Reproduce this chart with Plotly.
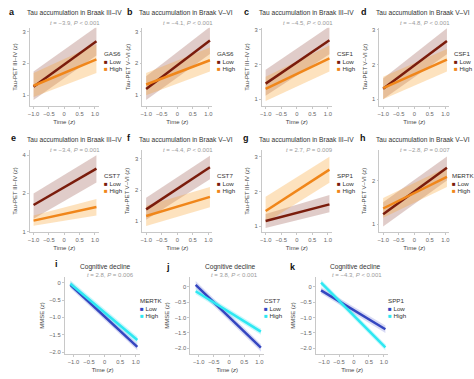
import plotly.graph_objects as go

W, H = 474, 379

# ---------------- data ----------------
panel_letters = ["a", "b", "c", "d", "e", "f", "g", "h", "i", "j", "k"]
panel_titles = ["Tau accumulation in Braak III–IV", "Tau accumulation in Braak V–VI",
                "Tau accumulation in Braak III–IV", "Tau accumulation in Braak V–VI",
                "Tau accumulation in Braak III–IV", "Tau accumulation in Braak V–VI",
                "Tau accumulation in Braak III–IV", "Tau accumulation in Braak V–VI",
                "Cognitive decline", "Cognitive decline", "Cognitive decline"]
stat_labels = ["<i>t</i> = −3.9, <i>P</i> &lt; 0.001", "<i>t</i> = −4.1, <i>P</i> &lt; 0.001",
               "<i>t</i> = −4.5, <i>P</i> &lt; 0.001", "<i>t</i> = −4.8, <i>P</i> &lt; 0.001",
               "<i>t</i> = −3.4, <i>P</i> = 0.001", "<i>t</i> = −4.4, <i>P</i> &lt; 0.001",
               "<i>t</i> = 2.7, <i>P</i> = 0.009", "<i>t</i> = −2.8, <i>P</i> = 0.007",
               "<i>t</i> = 2.8, <i>P</i> = 0.006", "<i>t</i> = 3.8, <i>P</i> &lt; 0.001",
               "<i>t</i> = −4.3, <i>P</i> &lt; 0.001"]
genes = ["GAS6", "GAS6", "CSF1", "CSF1", "CST7", "CST7", "SPP1", "MERTK", "MERTK", "CST7", "SPP1"]
y_titles = ["Tau-PET III–IV (<i>z</i>)", "Tau-PET V–VI (<i>z</i>)"] * 4 + ["MMSE (<i>z</i>)"] * 3
group_labels = ["Low", "High"]

time_top = [-1.0, 1.05]
time_bottom = [-1.1, 1.05]

low_start = [1.27, 1.20, 1.45, 1.30, 1.62, 1.38, 1.15, 1.23, -0.06, 0.06, -0.12]
low_end = [2.70, 2.72, 2.70, 2.68, 3.14, 2.73, 1.63, 2.29, -1.85, -1.98, -1.38]
high_start = [1.30, 1.34, 1.30, 1.32, 1.22, 1.17, 1.44, 1.36, -0.03, -0.15, 0.13]
high_end = [2.13, 2.10, 2.18, 2.14, 1.56, 1.78, 2.63, 2.08, -1.65, -1.46, -1.97]

low_ci_lo_start = [0.85, 0.85, 1.10, 1.00, 1.26, 1.05, 0.95, 0.95, -0.16, -0.06, -0.22]
low_ci_hi_start = [1.75, 1.60, 1.85, 1.60, 2.00, 1.75, 1.35, 1.50, 0.04, 0.18, -0.02]
low_ci_lo_end = [2.25, 2.30, 2.30, 2.30, 2.44, 2.35, 1.40, 2.00, -1.95, -2.10, -1.50]
low_ci_hi_end = [3.15, 3.15, 3.10, 3.05, 4.00, 3.10, 1.90, 2.55, -1.75, -1.86, -1.26]
high_ci_lo_start = [0.95, 1.00, 0.95, 1.00, 1.11, 0.85, 1.10, 1.15, -0.13, -0.25, 0.03]
high_ci_hi_start = [1.70, 1.70, 1.65, 1.65, 1.34, 1.50, 1.85, 1.60, 0.07, -0.05, 0.23]
high_ci_lo_end = [1.70, 1.75, 1.80, 1.80, 1.34, 1.45, 2.25, 1.85, -1.75, -1.56, -2.07]
high_ci_hi_end = [2.60, 2.50, 2.55, 2.45, 1.81, 2.10, 3.00, 2.30, -1.55, -1.36, -1.87]

# ---------------- styling / layout ----------------
FONT = "Liberation Sans, Arial, sans-serif"
tau_colors = ("#7a1c0c", "#f0861a")
tau_fill = ("rgba(125,40,30,0.24)", "rgba(248,160,40,0.30)")
cog_colors = ("#3446c0", "#2ee8f2")
cog_fill = ("rgba(60,70,200,0.20)", "rgba(40,225,240,0.25)")

xdom_px = [(28, 97), (141, 211), (261, 331), (379, 449)] * 2 + [(63, 139), (189, 263), (315, 388)]
ydom_px = [(27, 106)] * 4 + [(150, 233)] * 4 + [(278, 356)] * 3
yranges = [[0.66, 3.12], [0.66, 3.12], [0.80, 3.06], [0.80, 3.06],
           [-0.005, 0.646], [0.65, 3.29], [0.83, 3.20], [0.82, 2.70],
           [-2.06, 0.17], [-2.19, 0.32], [-2.19, 0.32]]
title_y_px = [12] * 4 + [140] * 4 + [268] * 3
stat_y_px = [22] * 4 + [150] * 4 + [276] * 3
letter_px = [(10, 11), (129, 11), (246, 11), (364, 11), (12, 138), (128, 138), (245, 138), (363, 138),
             (55, 265), (167, 268), (292, 268)]
legend_dx = [3, 3, 3, 3, 3, 3, 3, 1, -2, -2, -2]

TITLE_FS, STAT_FS, TICK_FS, AXT_FS, LEG_FS = 6.6, 6.0, 5.8, 6.0, 6.2


def fx(px):
    return px / W


def fy(px):
    return 1 - px / H


fig = go.Figure()
layout = dict(width=W, height=H, margin=dict(l=0, r=0, t=0, b=0),
              paper_bgcolor="white", plot_bgcolor="white", showlegend=False,
              font=dict(family=FONT, size=TICK_FS, color="#555"))
annotations = []

for i in range(11):
    k = "" if i == 0 else str(i + 1)
    xa, ya = "x" + k, "y" + k
    bottom = i >= 8
    t = time_bottom if bottom else time_top
    cols = cog_colors if bottom else tau_colors
    fills = cog_fill if bottom else tau_fill

    bands = [([low_ci_lo_start[i], low_ci_lo_end[i]], [low_ci_hi_start[i], low_ci_hi_end[i]]),
             ([high_ci_lo_start[i], high_ci_lo_end[i]], [high_ci_hi_start[i], high_ci_hi_end[i]])]
    for (lo, hi), fc in zip(bands, fills):
        fig.add_trace(go.Scatter(x=t + t[::-1], y=hi + lo[::-1], fill="toself", fillcolor=fc,
                                 mode="lines", line=dict(width=0), hoverinfo="skip",
                                 xaxis=xa, yaxis=ya))
    lines = [[low_start[i], low_end[i]], [high_start[i], high_end[i]]]
    for yv, c, name in zip(lines, cols, group_labels):
        fig.add_trace(go.Scatter(x=t, y=yv, mode="lines", line=dict(color=c, width=2.5),
                                 name=name, xaxis=xa, yaxis=ya))

    x0, x1 = xdom_px[i]
    y0, y1 = ydom_px[i]
    axis_common = dict(showgrid=False, zeroline=False, showline=True, linecolor="#c8c8c8",
                       linewidth=0.8, ticks="outside", ticklen=2, tickcolor="#c8c8c8",
                       tickangle=0, tickfont=dict(size=TICK_FS, color="#666"))
    layout["xaxis" + k] = dict(axis_common, domain=[fx(x0), fx(x1)], anchor=ya,
                               range=[-1.28, 1.15] if bottom else [-1.12, 1.12],
                               tickvals=[-1, -0.5, 0, 0.5, 1],
                               ticktext=["−1.0", "−0.5", "0", "0.5", "1.0"],
                               title=dict(text="Time (<i>z</i>)", font=dict(size=AXT_FS, color="#444"),
                                          standoff=3))
    ydict = dict(axis_common, domain=[fy(y1), fy(y0)], anchor=xa, range=yranges[i],
                 title=dict(text=y_titles[i], font=dict(size=AXT_FS, color="#444"), standoff=4))
    if i == 4:
        ydict.update(type="log", tickvals=[1, 2, 4], ticktext=["1", "2", "4"])
    elif i == 7:
        ydict.update(tickvals=[1, 2])
    elif bottom:
        ydict.update(tickvals=[0, -0.5, -1, -1.5, -2], ticktext=["0", "−0.5", "−1.0", "−1.5", "−2.0"])
    else:
        ydict.update(tickvals=[1, 2, 3])
    layout["yaxis" + k] = ydict

    # panel letter
    lx, ly = letter_px[i]
    annotations.append(dict(text="<b>%s</b>" % panel_letters[i], x=fx(lx), y=fy(ly),
                            xref="paper", yref="paper", showarrow=False, xanchor="center",
                            yanchor="middle", font=dict(size=9, color="#111")))
    # title
    if bottom:
        annotations.append(dict(text=panel_titles[i], x=fx((x0 + x1) / 2 + 3), y=fy(title_y_px[i]),
                                xref="paper", yref="paper", showarrow=False, xanchor="center",
                                yanchor="middle", font=dict(size=TITLE_FS, color="#333")))
        sx = x1 - 4
        lgy = y0 + 24
    else:
        annotations.append(dict(text=panel_titles[i], x=fx(x0 - 5), y=fy(title_y_px[i]),
                                xref="paper", yref="paper", showarrow=False, xanchor="left",
                                yanchor="middle", font=dict(size=TITLE_FS, color="#333")))
        sx = x1 + 3
        lgy = y0 + 26
    lgx = x1 + legend_dx[i]
    annotations.append(dict(text=stat_labels[i], x=fx(sx), y=fy(stat_y_px[i]),
                            xref="paper", yref="paper", showarrow=False, xanchor="right",
                            yanchor="middle", font=dict(size=STAT_FS, color="#9a9a9a")))
    # legend
    annotations.append(dict(text=genes[i], x=fx(lgx), y=fy(lgy), xref="paper", yref="paper",
                            showarrow=False, xanchor="left", yanchor="middle",
                            font=dict(size=LEG_FS, color="#333")))
    for j, (name, c) in enumerate(zip(group_labels, cols)):
        annotations.append(dict(text="<span style='color:%s'>■</span> %s" % (c, name),
                                x=fx(lgx), y=fy(lgy + 8 + 7 * j), xref="paper", yref="paper",
                                showarrow=False, xanchor="left", yanchor="middle",
                                font=dict(size=LEG_FS, color="#333")))

layout["annotations"] = annotations
fig.update_layout(**layout)
fig.write_html("out.html", config={"displayModeBar": False},
               post_script="document.body.style.margin='0';")
